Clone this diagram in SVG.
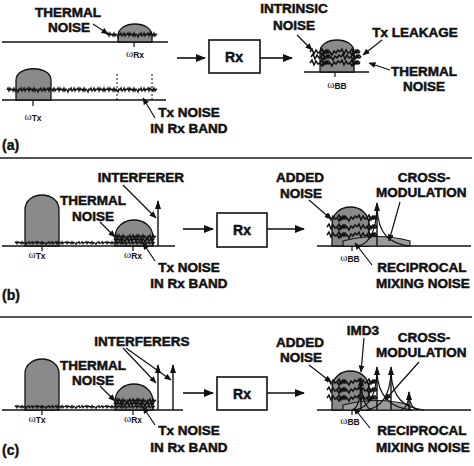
<svg xmlns="http://www.w3.org/2000/svg" width="474" height="466" viewBox="0 0 474 466">
<style>
.t{font-family:"Liberation Sans",Arial,sans-serif;font-weight:bold;font-size:13.5px;text-anchor:middle;fill:#111;stroke:#111;stroke-width:0.5}
.lb{font-family:"Liberation Sans",Arial,sans-serif;font-weight:bold;font-size:14px;fill:#111;stroke:#111;stroke-width:0.4}
.w{font-family:"Liberation Serif","Times New Roman",serif;font-size:11px;text-anchor:middle;fill:#111}
.ws{font-family:"Liberation Sans",Arial,sans-serif;font-weight:bold;font-size:8.5px}
.hump{fill:#8a8a8a;stroke:#111;stroke-width:1.3}
.rm{fill:#9c9c9c;stroke:#111;stroke-width:1.1}
.ax{stroke:#111;stroke-width:1.6;fill:none}
.tk{stroke:#111;stroke-width:1.2}
.nz{fill:none;stroke:#111;stroke-width:1.3}
.br{fill:none;stroke:#111;stroke-width:1.5}
.ptr{stroke:#111;stroke-width:1.2;fill:none;marker-end:url(#ah)}
.flow{stroke:#111;stroke-width:1.6;fill:none;marker-end:url(#fa)}
.int{stroke:#111;stroke-width:1.4;fill:none;marker-end:url(#ia)}
.tent{stroke:#111;stroke-width:1.2;fill:none}
.box{fill:#fff;stroke:#111;stroke-width:1.6}
.sep{stroke:#555;stroke-width:2}
</style>
<defs>
<marker id="ah" markerUnits="userSpaceOnUse" markerWidth="7" markerHeight="6" refX="6.5" refY="3" orient="auto"><path d="M0,0 L7,3 L0,6 z" fill="#111"/></marker>
<marker id="fa" markerUnits="userSpaceOnUse" markerWidth="10" markerHeight="8" refX="9" refY="4" orient="auto"><path d="M0,0 L10,4 L0,8 z" fill="#111"/></marker>
<marker id="ia" markerUnits="userSpaceOnUse" markerWidth="9" markerHeight="6" refX="8" refY="3" orient="auto"><path d="M0,0 L9,3 L0,6 z" fill="#111"/></marker>
<path id="nz" class="nz" d="M0,0 l1,-2 1,3 1,-3 1,2 1,-1 1,2 1,-3 1,3 1,-2 1,1"/>
<path id="nz2" class="nz" d="M0,0 l1,2 1,-3 1,1 1,-2 1,3 1,-1 1,-2 1,3 1,-2 1,1"/>
<g id="n50"><use href="#nz"/><use href="#nz2" x="10"/><use href="#nz" x="20"/><use href="#nz2" x="30"/><use href="#nz" x="40"/></g>
<g id="n40"><use href="#nz"/><use href="#nz2" x="10"/><use href="#nz" x="20"/><use href="#nz2" x="30"/></g>
<path id="b10" class="br" d="M0,0 l2,-3 2,5 2,-4 2,3 2,-1"/>
<path id="b10b" class="br" d="M0,0 l2,3 2,-4 2,2 2,-3 2,2"/>
<g id="b50"><use href="#b10"/><use href="#b10b" x="10"/><use href="#b10" x="10"/><use href="#b10b" x="20"/><use href="#b10" x="30"/><use href="#b10b" x="40"/><use href="#b10" x="40"/></g>
</defs>

<!-- separators -->
<line class="sep" x1="0" y1="158" x2="472" y2="158"/>
<line class="sep" x1="0" y1="317" x2="472" y2="317"/>

<!-- ===== PANEL (a) ===== -->
<g id="a-rx-spectrum">
<line class="ax" x1="2" y1="42" x2="168" y2="42"/>
<path class="hump" d="M118,42 V36 C118,20 152,20 152,36 V42 Z"/>
<use href="#n50" x="107" y="35"/>
<line class="tk" x1="134" y1="42" x2="134" y2="47"/>
<text class="w" x="135" y="57">ω<tspan class="ws" dy="1">Rx</tspan></text>
<text class="t" x="68" y="17">THERMAL</text>
<text class="t" x="69" y="32">NOISE</text>
</g>
<g id="a-tx-spectrum">
<line class="ax" x1="2" y1="100" x2="166" y2="100"/>
<path class="hump" d="M16,100 V80 C16,65 51,65 51,80 V100 Z"/>
<use href="#n50" x="7" y="90"/><use href="#n50" x="57" y="90"/><use href="#n50" x="107" y="90"/>
<line x1="117" y1="74" x2="117" y2="100" stroke="#111" stroke-width="1" stroke-dasharray="2,2"/>
<line x1="152" y1="74" x2="152" y2="100" stroke="#111" stroke-width="1" stroke-dasharray="2,2"/>
<line class="tk" x1="33" y1="100" x2="33" y2="106"/>
<text class="w" x="33" y="120">ω<tspan class="ws" dy="1">Tx</tspan></text>
<text class="t" x="189" y="117">Tx NOISE</text>
<text class="t" x="189" y="133">IN Rx BAND</text>
</g>
<text class="lb" x="2" y="150">(a)</text>
<g id="a-rx">
<rect class="box" x="209" y="40" width="51" height="33"/>
<text class="t" x="234" y="62" style="font-size:14px">Rx</text>
</g>
<g id="a-bb-spectrum">
<line class="ax" x1="304" y1="72" x2="369" y2="72"/>
<path class="hump" d="M320,72 V52 C320,36 354,36 354,52 V72 Z"/>
<use href="#b50" x="310" y="52"/><use href="#b50" x="311" y="57"/><use href="#b50" x="310" y="63"/>
<line class="tk" x1="335" y1="72" x2="335" y2="77"/>
<text class="w" x="337" y="88">ω<tspan class="ws" dy="1">BB</tspan></text>
<text class="t" x="294" y="13">INTRINSIC</text>
<text class="t" x="294" y="30">NOISE</text>
<text class="t" x="415" y="37">Tx LEAKAGE</text>
<text class="t" x="424" y="76">THERMAL</text>
<text class="t" x="424" y="91">NOISE</text>
</g>

<!-- ===== PANEL (b) ===== -->
<g id="b-input-spectrum">
<line class="ax" x1="2" y1="246" x2="175" y2="246"/>
<path class="hump" d="M25,246 V210 C25,190 59,190 59,210 V246 Z"/>
<path class="hump" d="M115,246 V238 C115,214 153,214 153,238 V246 Z"/>
<g transform="translate(0,243) scale(1,0.7)"><use href="#n50" x="15"/><use href="#n50" x="65"/><use href="#n40" x="115"/></g>
<use href="#n40" x="114" y="240"/><use href="#n40" x="116" y="237"/>
<line class="int" x1="158" y1="246" x2="158" y2="201"/>
<line class="tk" x1="42" y1="246" x2="42" y2="251"/>
<line class="tk" x1="133" y1="246" x2="133" y2="251"/>
<text class="w" x="37" y="258">ω<tspan class="ws" dy="1">Tx</tspan></text>
<text class="w" x="133" y="258">ω<tspan class="ws" dy="1">Rx</tspan></text>
<text class="t" x="141" y="182">INTERFERER</text>
<text class="t" x="93" y="205">THERMAL</text>
<text class="t" x="93" y="221">NOISE</text>
<text class="t" x="189" y="272">Tx NOISE</text>
<text class="t" x="189" y="288">IN Rx BAND</text>
</g>
<text class="lb" x="2" y="300">(b)</text>
<g id="b-rx">
<rect class="box" x="217" y="213" width="50" height="34"/>
<text class="t" x="242" y="235" style="font-size:14px">Rx</text>
</g>
<g id="b-bb-spectrum">
<line class="ax" x1="317" y1="246" x2="471" y2="246"/>
<path class="hump" d="M332,246 V225 C332,201 369,201 369,225 V246 Z"/>
<path class="rm" d="M343,246 V241 Q378,232 410,241 V246 Z"/>
<use href="#b50" x="327" y="218"/><use href="#b50" x="327" y="227"/><use href="#b50" x="327" y="235"/>
<path class="tent" d="M358,246 C368,244 376,235 377,207 C378,235 390,244 410,246"/>
<line class="int" x1="377" y1="246" x2="377" y2="203"/>
<line class="tk" x1="352" y1="246" x2="352" y2="251"/>
<text class="w" x="350" y="261">ω<tspan class="ws" dy="1">BB</tspan></text>
<text class="t" x="300" y="182">ADDED</text>
<text class="t" x="301" y="198">NOISE</text>
<text class="t" x="424" y="182">CROSS-</text>
<text class="t" x="376" y="197" style="text-anchor:start">MODULATION</text>
<text class="t" x="422" y="272">RECIPROCAL</text>
<text class="t" x="423" y="288">MIXING NOISE</text>
</g>

<!-- ===== PANEL (c) ===== -->
<g id="c-input-spectrum">
<line class="ax" x1="2" y1="410" x2="183" y2="410"/>
<path class="hump" d="M25,410 V374 C25,354 59,354 59,374 V410 Z"/>
<path class="hump" d="M115,410 V402 C115,378 153,378 153,402 V410 Z"/>
<g transform="translate(0,407) scale(1,0.7)"><use href="#n50" x="15"/><use href="#n50" x="65"/><use href="#n40" x="115"/></g>
<use href="#n40" x="114" y="404"/><use href="#n40" x="116" y="401"/>
<line class="int" x1="158" y1="410" x2="158" y2="365"/>
<line class="int" x1="173" y1="410" x2="173" y2="365"/>
<line class="tk" x1="42" y1="410" x2="42" y2="415"/>
<line class="tk" x1="133" y1="410" x2="133" y2="415"/>
<text class="w" x="37" y="422">ω<tspan class="ws" dy="1">Tx</tspan></text>
<text class="w" x="133" y="422">ω<tspan class="ws" dy="1">Rx</tspan></text>
<text class="t" x="142" y="346">INTERFERERS</text>
<text class="t" x="93" y="370">THERMAL</text>
<text class="t" x="93" y="385">NOISE</text>
<text class="t" x="189" y="435">Tx NOISE</text>
<text class="t" x="189" y="452">IN Rx BAND</text>
</g>
<text class="lb" x="2" y="455">(c)</text>
<g id="c-rx">
<rect class="box" x="217" y="377" width="50" height="33"/>
<text class="t" x="242" y="399" style="font-size:14px">Rx</text>
</g>
<g id="c-bb-spectrum">
<line class="ax" x1="317" y1="410" x2="471" y2="410"/>
<path class="hump" d="M332,410 V389 C332,365 369,365 369,389 V410 Z"/>
<path class="rm" d="M343,410 V405 Q378,396 410,405 V410 Z"/>
<use href="#b50" x="327" y="382"/><use href="#b50" x="327" y="390"/><use href="#b50" x="327" y="398"/>
<path class="tent" d="M355,410 C367,408 376,398 377,372 C378,398 392,408 412,410"/>
<path class="tent" d="M366,410 C380,408 390,398 391,372 C392,398 404,408 424,410"/>
<path class="tent" d="M352,410 C358,408 360,400 361,383 C362,400 366,408 372,410"/>
<path class="tent" d="M401,410 C405,409 408,404 409,396 C410,404 413,409 418,410"/>
<line class="int" x1="377" y1="410" x2="377" y2="367"/>
<line class="int" x1="391" y1="410" x2="391" y2="367"/>
<line class="int" x1="361" y1="410" x2="361" y2="378"/>
<line class="int" x1="409" y1="410" x2="409" y2="392"/>
<line class="tk" x1="352" y1="410" x2="352" y2="415"/>
<text class="w" x="350" y="424">ω<tspan class="ws" dy="1">BB</tspan></text>
<text class="t" x="300" y="347">ADDED</text>
<text class="t" x="301" y="362">NOISE</text>
<text class="t" x="363" y="335">IMD3</text>
<text class="t" x="424" y="342">CROSS-</text>
<text class="t" x="376" y="357" style="text-anchor:start">MODULATION</text>
<text class="t" x="422" y="435">RECIPROCAL</text>
<text class="t" x="423" y="452">MIXING NOISE</text>
</g>

<!-- ===== connectors ===== -->
<g id="connectors">
<line class="flow" x1="177" y1="58" x2="205" y2="58"/>
<line class="flow" x1="260" y1="58" x2="292" y2="58"/>
<line class="flow" x1="183" y1="229" x2="213" y2="229"/>
<line class="flow" x1="267" y1="229" x2="304" y2="229"/>
<line class="flow" x1="183" y1="393" x2="213" y2="393"/>
<line class="flow" x1="267" y1="393" x2="304" y2="393"/>
<path class="ptr" d="M93,24 L108,34"/>
<path class="ptr" d="M155,118 L143,98"/>
<path class="ptr" d="M297,35 L312,50"/>
<path class="ptr" d="M382,40 L363,55"/>
<path class="ptr" d="M390,70 L369,63"/>
<path class="ptr" d="M123,185 L156,218"/>
<path class="ptr" d="M100,222 L115,237"/>
<path class="ptr" d="M155,261 L143,243"/>
<path class="ptr" d="M309,200 L331,219"/>
<path class="ptr" d="M400,202 L389,241"/>
<path class="ptr" d="M372,265 L355,243"/>
<path class="ptr" d="M123,348 L156,383"/>
<path class="ptr" d="M126,348 L171,380"/>
<path class="ptr" d="M100,386 L115,401"/>
<path class="ptr" d="M155,425 L143,407"/>
<path class="ptr" d="M309,365 L331,382"/>
<path class="ptr" d="M364,338 L361,372"/>
<path class="ptr" d="M419,362 L385,400"/>
<path class="ptr" d="M370,428 L354,408"/>
</g>
</svg>
